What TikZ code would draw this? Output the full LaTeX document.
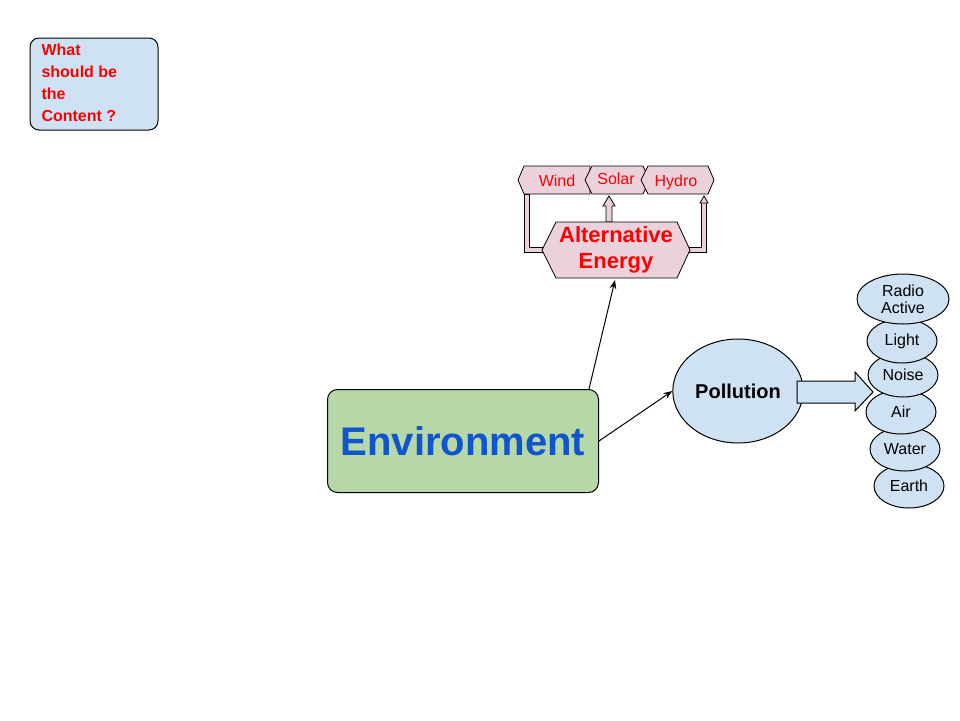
\documentclass[tikz,border=0pt]{standalone}
\usepackage{fontspec}
\setmainfont{Liberation Sans}
\usetikzlibrary{shapes.geometric,arrows.meta}
\definecolor{lblue}{HTML}{CFE2F3}
\definecolor{lgreen}{HTML}{B6D7A8}
\definecolor{lpink}{HTML}{EAD1DC}
\definecolor{envblue}{HTML}{1155CC}
\tikzset{
  bubble/.style={ellipse,draw,fill=lblue,line width=1pt,inner sep=0pt,align=center,font=\fontsize{16}{17}\selectfont},
  pipe/.style={draw=black,line width=6pt},
  pipein/.style={draw=lpink,line width=4pt},
  hexa/.style={draw,fill=lpink,line width=0.8pt}
}
\begin{document}
\begin{tikzpicture}[x=1pt,y=-1pt]
      \useasboundingbox (0,0) rectangle (960,720);
      % note box
      \draw [fill=lblue,rounded corners=9pt,line width=1pt] (30,38) rectangle (158,130);
      \node [anchor=north west,align=left,text=red,font=\bfseries\fontsize{16}{22}\selectfont] (note) at (38,40) {What\\should be\\the\\Content ?};
      % main nodes
      \node [draw,rounded corners=10pt,fill=lgreen,line width=1pt,minimum width=271pt,minimum height=103pt,text=envblue,font=\bfseries\fontsize{40}{40}\selectfont] (env) at (463,441) {Environment};
      \node [ellipse,draw,fill=lblue,line width=1pt,minimum width=120pt,minimum height=104pt,font=\bfseries\fontsize{20}{20}\selectfont] (poll) at (738,391) {Pollution};
      % pollution kinds
      \node [bubble,minimum width=70pt,minimum height=44pt] (earth) at (909,486) {Earth};
      \node [bubble,minimum width=70pt,minimum height=44pt] (water) at (905,449) {Water};
      \node [bubble,minimum width=70pt,minimum height=44pt] (air) at (901,412) {Air};
      \node [bubble,minimum width=70pt,minimum height=44pt] (noise) at (903,375) {Noise};
      \node [bubble,minimum width=70pt,minimum height=44pt] (light) at (902,341) {Light};
      \node [bubble,minimum width=92pt,minimum height=50pt] (radio) at (903,299) {Radio\\Active};
      % block arrow
      \draw [fill=lblue,line width=1pt] (797,381) -- (855,381) -- (855,372) -- (873,392) -- (855,411) -- (855,403) -- (797,403) -- cycle;
      % energy hexagons
      \draw [hexa] (518,180) -- (524,166) -- (590,166) -- (590,194) -- (524,194) -- cycle;
      \draw [hexa] (585,180) -- (592,166) -- (643,166) -- (649,180) -- (643,194) -- (592,194) -- cycle;
      \draw [hexa] (641,180) -- (648,166) -- (708,166) -- (714,180) -- (708,194) -- (648,194) -- cycle;
      \node [text=red,font=\fontsize{16}{16}\selectfont] (wind) at (557,181) {Wind};
      \node [text=red,font=\fontsize{16}{16}\selectfont] (solar) at (616,179) {Solar};
      \node [text=red,font=\fontsize{16}{16}\selectfont] (hydro) at (676,182) {Hydro};
      % pipes
      \draw [pipe] (545,250) -- (527,250) -- (527,194);
      \draw [pipein] (546,250) -- (527,250) -- (527,195);
      \draw [pipe] (687,250) -- (704,250) -- (704,202);
      \draw [pipein] (686,250) -- (704,250) -- (704,202);
      \draw [fill=lpink,line width=0.8pt] (700,203) -- (708,203) -- (704,196) -- cycle;
      \draw [fill=lpink,line width=0.8pt] (606,222) -- (606,206) -- (603,206) -- (609,196) -- (615,206) -- (612,206) -- (612,222) -- cycle;
      \draw [hexa] (542,250) -- (556,222) -- (677,222) -- (690,250) -- (677,278) -- (556,278) -- cycle;
      \node [align=center,text=red,font=\bfseries\fontsize{22}{26}\selectfont] (alt) at (616,250) {Alternative\\Energy};
      \coordinate (altb) at (615,280);
      % connectors
      \draw [-{Stealth[length=9pt]},line width=1pt] (env.north east) ++(-10,0) coordinate (e1) -- (altb);
      \draw [-{Stealth[length=9pt]},line width=1pt] (env.east) -- (poll.west);
\end{tikzpicture}
\end{document}
